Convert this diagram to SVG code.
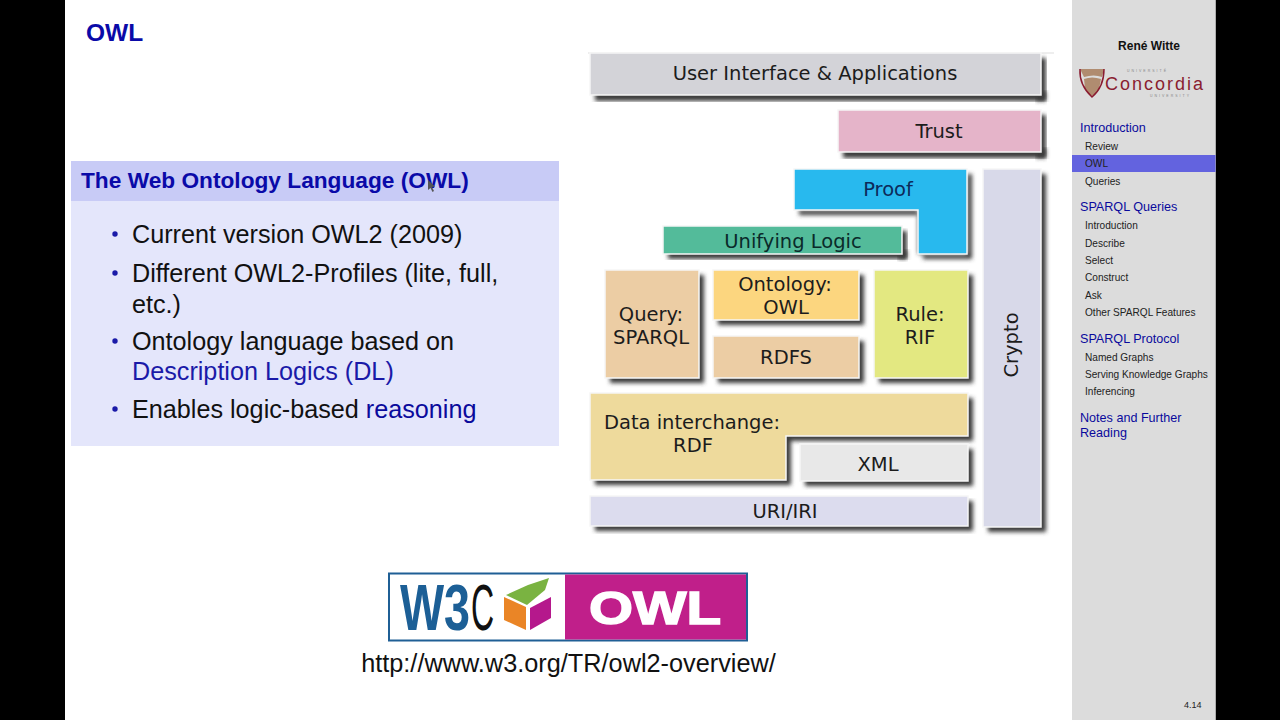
<svg xmlns="http://www.w3.org/2000/svg" width="1280" height="720" viewBox="0 0 1280 720">
<style>
.h{font-family:"Liberation Sans",Arial,sans-serif}
.d{font-family:"DejaVu Sans",Verdana,sans-serif;font-size:19.5px;fill:#1c1c1c;text-anchor:middle}
.b{font-size:25.200px;fill:#111}
.blt{fill:#0a0a9c;font-size:12.600px}
.sub{font-size:10.100px;fill:#222}
.s{fill:#3c3c3c;filter:url(#bl)}
.n{stroke:#f6f6f6;stroke-width:1.5}
.dot{fill:#1a1aa8}
</style>
<defs><filter id="bl" x="-10%" y="-10%" width="120%" height="120%"><feGaussianBlur stdDeviation="2"/></filter></defs>
<rect width="1280" height="720" fill="#fff"/>
<rect width="65" height="720" fill="#000"/>
<rect x="1215.500" width="64.500" height="720" fill="#000"/>
<rect x="1072" width="143.500" height="720" fill="#dcdcdc"/>
<text class="h" x="86" y="41" font-size="24.500" font-weight="bold" fill="#0a0aa8">OWL</text>

<g id="block">
<rect x="71" y="161" width="488" height="285" fill="#e4e6fb"/>
<rect x="71" y="161" width="488" height="40" fill="#c8cbf6"/>
<text class="h" x="81" y="188" font-size="22.700" font-weight="bold" fill="#0a0aa8">The Web Ontology Language (OWL)</text>
<path d="M428 180l0 10 2.500-2 2 4 1.500-1-2-4 3-.5z" fill="#555"/>
<circle class="dot" cx="115" cy="234" r="2.700"/>
<text class="h b" x="132" y="243">Current version OWL2 (2009)</text>
<circle class="dot" cx="115" cy="273" r="2.700"/>
<text class="h b" x="132" y="282">Different OWL2-Profiles (lite, full,</text>
<text class="h b" x="132" y="313">etc.)</text>
<circle class="dot" cx="115" cy="341" r="2.700"/>
<text class="h b" x="132" y="350">Ontology language based on</text>
<text class="h b" x="132" y="380" style="fill:#1a1aa8">Description Logics (DL)</text>
<circle class="dot" cx="115" cy="409" r="2.700"/>
<text class="h b" x="132" y="418">Enables logic-based <tspan fill="#0a0a9c">reasoning</tspan></text>
</g>

<path d="M588 53H1054" stroke="#ddd" fill="none"/>
<g id="shadows">
<rect class="s" x="595" y="91" width="451" height="10"/><rect class="s" x="1036" y="58" width="10" height="43"/>
<rect class="s" x="843" y="148" width="203" height="10"/><rect class="s" x="1036" y="115" width="10" height="43"/>
<path class="s" d="M967 174H972V259H923V215H799V210H918V254H967Z"/>
<rect class="s" x="668" y="250" width="239" height="9"/><rect class="s" x="898" y="231" width="9" height="28"/>
<rect class="s" x="988" y="174" width="58" height="358"/>
<rect class="s" x="610" y="275" width="94" height="108"/>
<rect class="s" x="718" y="275" width="146" height="50"/>
<rect class="s" x="718" y="341" width="146" height="42"/>
<rect class="s" x="879" y="275" width="94" height="108"/>
<path class="s" d="M595 398H973V441H791V485H595Z"/>
<rect class="s" x="805" y="449" width="168" height="37"/>
<rect class="s" x="595" y="501" width="378" height="30"/>
</g>
<g id="n-ui"><rect class="n" x="590" y="53" width="451" height="42" fill="#d3d3d8"/><text class="d" x="815" y="80">User Interface &amp; Applications</text></g>
<g id="n-trust"><rect class="n" x="838" y="110" width="203" height="42" fill="#e5b4c9"/><text class="d" x="939" y="138">Trust</text></g>
<g id="n-proof"><path class="n" d="M794 169H967V254H918V210H794Z" fill="#28b9ee"/><text class="d" x="888" y="196" style="fill:#0d2a5a">Proof</text></g>
<g id="n-logic"><rect class="n" x="663" y="226" width="239" height="28" fill="#53bb9a"/><text class="d" x="793" y="248" style="fill:#0a2a2a">Unifying Logic</text></g>
<g id="n-crypto"><rect class="n" x="983" y="169" width="58" height="358" fill="#d8d9e9"/><text class="d" transform="translate(1018 345) rotate(-90)">Crypto</text></g>
<g id="n-query"><rect class="n" x="605" y="270" width="94" height="108" fill="#eccda4"/><text class="d" x="651" y="321">Query:</text><text class="d" x="651" y="344">SPARQL</text></g>
<g id="n-owl"><rect class="n" x="713" y="270" width="146" height="50" fill="#fcd67f"/><text class="d" x="785" y="291">Ontology:</text><text class="d" x="786" y="314">OWL</text></g>
<g id="n-rdfs"><rect class="n" x="713" y="336" width="146" height="42" fill="#eccda4"/><text class="d" x="786" y="364">RDFS</text></g>
<g id="n-rule"><rect class="n" x="874" y="270" width="94" height="108" fill="#e3e881"/><text class="d" x="920" y="321">Rule:</text><text class="d" x="920" y="344">RIF</text></g>
<g id="n-rdf"><path class="n" d="M590 393H968V436H786V480H590Z" fill="#eeda9c"/><text class="d" x="692" y="429">Data interchange:</text><text class="d" x="693" y="452">RDF</text></g>
<g id="n-xml"><rect class="n" x="800" y="444" width="168" height="37" fill="#e8e8e8"/><text class="d" x="878" y="471">XML</text></g>
<g id="n-uri"><rect class="n" x="590" y="496" width="378" height="30" fill="#dcdcee"/><text class="d" x="785" y="518">URI/IRI</text></g>

<g id="logo">
<rect x="389" y="573.500" width="358" height="67" fill="#fff" stroke="#1f5f95" stroke-width="2"/>
<rect x="565" y="574.500" width="181" height="65" fill="#c01f8a"/>
<text class="h" transform="translate(400 630) scale(.73 1)" font-size="64" font-weight="bold" fill="#1c5f96">W3</text>
<text class="h" transform="translate(471 630) scale(.5 1)" font-size="64" fill="#111">C</text>
<polygon points="506,595 528,585 549,578 545,590 527,605" fill="#7ab341"/>
<polygon points="504,597 526,607 526,630 504,620" fill="#ea8526"/>
<polygon points="530,608 551,597 551,618 530,630" fill="#b5188c"/>
<text class="h" x="589" y="624" font-size="46" font-weight="bold" fill="#fff" stroke="#fff" stroke-width="1.500" textLength="132" lengthAdjust="spacingAndGlyphs">OWL</text>
</g>
<text class="h" x="568.500" y="672" font-size="25.300" fill="#111" text-anchor="middle">http://www.w3.org/TR/owl2-overview/</text>

<g id="side" class="h">
<text x="1149" y="50" font-size="12" font-weight="bold" fill="#111" text-anchor="middle">René Witte</text>
<path d="M1080 69h24l-2 8q-8-3-18 0zM1084 79q8-3 17 0l-2 10q-3 5-7 7-5-3-7-8z" fill="#b08c70"/>
<path d="M1080 69q-1 16 12 28 12-10 12-28" fill="none" stroke="#8a1c30" stroke-width="1.500"/>
<text x="1105" y="90" font-size="18" fill="#8a1c30" textLength="98">Concordia</text>
<text x="1127" y="72" font-size="3.500" fill="#888" letter-spacing="2">UNIVERSITÉ</text>
<text x="1150" y="97" font-size="3.500" fill="#888" letter-spacing="2">UNIVERSITY</text>
<rect x="1072" y="155" width="143.500" height="17" fill="#6363df"/>
<text class="blt" x="1080" y="132">Introduction</text>
<text class="sub" x="1085" y="150">Review</text>
<text class="sub" x="1085" y="167">OWL</text>
<text class="sub" x="1085" y="185">Queries</text>
<text class="blt" x="1080" y="211">SPARQL Queries</text>
<text class="sub" x="1085" y="229">Introduction</text>
<text class="sub" x="1085" y="247">Describe</text>
<text class="sub" x="1085" y="264">Select</text>
<text class="sub" x="1085" y="281">Construct</text>
<text class="sub" x="1085" y="299">Ask</text>
<text class="sub" x="1085" y="316">Other SPARQL Features</text>
<text class="blt" x="1080" y="343">SPARQL Protocol</text>
<text class="sub" x="1085" y="361">Named Graphs</text>
<text class="sub" x="1085" y="378">Serving Knowledge Graphs</text>
<text class="sub" x="1085" y="395">Inferencing</text>
<text class="blt" x="1080" y="422">Notes and Further</text>
<text class="blt" x="1080" y="437">Reading</text>
<text class="sub" x="1184" y="708" style="font-size:9px">4.14</text>
</g>
</svg>
